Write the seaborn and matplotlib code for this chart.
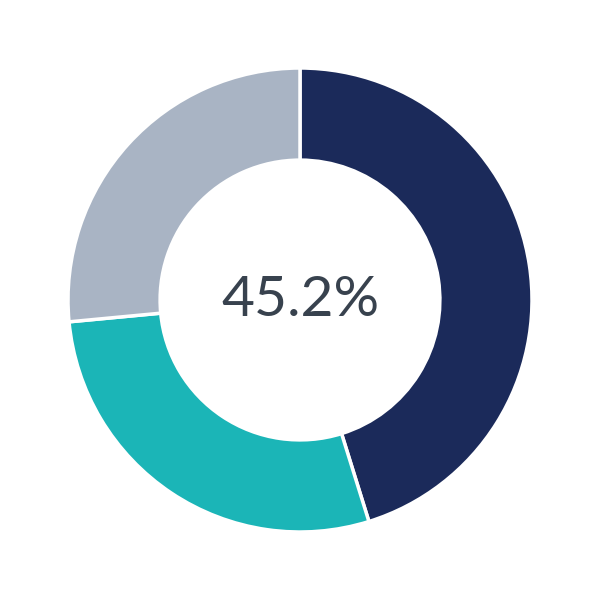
import matplotlib
matplotlib.use("Agg")
import matplotlib.pyplot as plt
import seaborn as sns

sns.set_theme(style="white")
plt.rcParams['font.family'] = ['Lato', 'DejaVu Sans']

categories = ["Navy", "Teal", "Gray"]
values = [45.2, 28.3, 26.5]
colors = ["#1b2a5a", "#1bb5b7", "#a9b4c4"]
center_label = "45.2%"

fig = plt.figure(figsize=(6, 6), dpi=100)
ax = fig.add_axes([0, 0, 1, 1])
ax.pie(values, colors=colors, startangle=90, counterclock=False, radius=1.0,
       wedgeprops=dict(width=0.397, edgecolor="white", linewidth=2.5))
lim = 300 / 232
ax.set_xlim(-lim, lim)
ax.set_ylim(-lim, lim)
ax.set_aspect("equal")
ax.axis("off")
ax.text(0, 0, center_label, ha="center", va="center", fontsize=41,
        color="#38424e", fontweight="normal")
fig.savefig("out.png", dpi=100)
